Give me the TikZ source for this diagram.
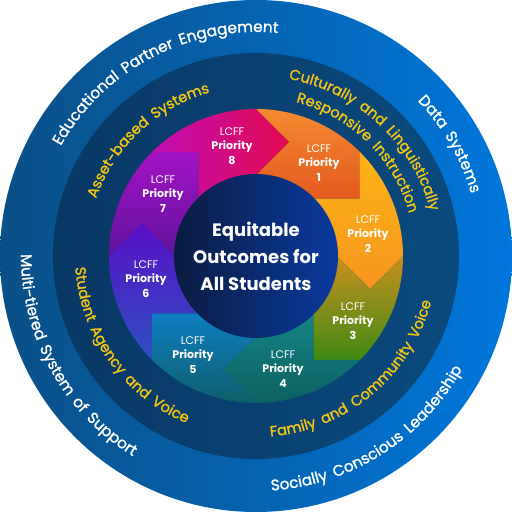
\documentclass[tikz,border=0pt]{standalone}
\usepackage{fontspec}
\setmainfont{Poppins}
\newfontfamily\curvefont[FakeBold=1.3,WordSpace=1.7]{Poppins}
\usetikzlibrary{decorations.text}
\definecolor{ylw}{HTML}{F4C614}
\newcommand{\wfont}{\curvefont\fontsize{15.3}{15.3}\selectfont}
\newcommand{\yfont}{\curvefont\fontsize{14.6}{14.6}\selectfont}
\begin{document}
\begin{tikzpicture}[x=1pt,y=1pt,
  lbl/.style={text=white,align=center,font=\fontsize{11}{14.5}\selectfont,inner sep=0pt},
  ctr/.style={text=white,align=center,font=\fontsize{18}{27}\selectfont\bfseries,inner sep=0pt},
  wtxt/.style={decorate,decoration={text along path,text align=center,text={|\color{white}\wfont|#1}}},
  ytxt/.style={decorate,decoration={text along path,text align=center,text={|\color{ylw}\yfont|#1}}}]
\useasboundingbox (-256,-256) rectangle (256,256);
\fill[white] (-256,-256) rectangle (256,256);
% rings
\shade[left color={rgb,255:red,10;green,79;blue,134},right color={rgb,255:red,0;green,119;blue,220}] (0,0) circle[radius=256];
\shade[left color={rgb,255:red,9;green,56;blue,100},right color={rgb,255:red,11;green,74;blue,126}] (0,0) circle[radius=203];
% segments
\newcommand{\seg}[4]{%
  \pgfmathsetmacro{\aa}{#1}\pgfmathsetmacro{\bb}{#1-45}%
  \pgfmathsetmacro{\ta}{#1-16.14}\pgfmathsetmacro{\tb}{#1-61.14}%
  \shade[top color=#2,bottom color=#3,shading angle=#4]
    (\aa:147) arc[start angle=\aa,end angle=\bb,radius=147] -- (\tb:118.68) -- (\bb:81)
    arc[start angle=\bb,end angle=\aa,radius=81] -- (\ta:118.68) -- cycle;}
\definecolor{s1a}{HTML}{F58A30}\definecolor{s1b}{HTML}{E25A1F}
\definecolor{s2a}{HTML}{FCB415}\definecolor{s2b}{HTML}{F79420}
\definecolor{s3a}{HTML}{C9901F}\definecolor{s3b}{HTML}{3F8A14}
\definecolor{s4a}{HTML}{158585}\definecolor{s4b}{HTML}{0C6060}
\definecolor{s5a}{HTML}{0D7FC2}\definecolor{s5b}{HTML}{0F5E6A}
\definecolor{s6a}{HTML}{5A0FC6}\definecolor{s6b}{HTML}{2C50C0}
\definecolor{s7a}{HTML}{A312C4}\definecolor{s7b}{HTML}{60139E}
\definecolor{s8a}{HTML}{C00CB4}\definecolor{s8b}{HTML}{E30A50}
\seg{90}{s1a}{s1b}{0}
\seg{45}{s2a}{s2b}{0}
\seg{0}{s3a}{s3b}{0}
\seg{-45}{s4a}{s4b}{0}
\seg{-90}{s5a}{s5b}{0}
\seg{-135}{s6a}{s6b}{0}
\seg{180}{s7a}{s7b}{0}
\seg{135}{s8a}{s8b}{90}
% center
\shade[left color={rgb,255:red,10;green,28;blue,64},right color={rgb,255:red,10;green,58;blue,160}] (0,0) circle[radius=82];
\node[ctr] (center) at (0,0) {Equitable\\Outcomes for\\All Students};
% labels
\node[lbl] (p1) at (63,93) {LCFF\\\textbf{Priority}\\\textbf{1}};
\node[lbl] (p2) at (112,22) {LCFF\\\textbf{Priority}\\\textbf{2}};
\node[lbl] (p3) at (97,-65) {LCFF\\\textbf{Priority}\\\textbf{3}};
\node[lbl] (p4) at (27,-113) {LCFF\\\textbf{Priority}\\\textbf{4}};
\node[lbl] (p5) at (-63,-99) {LCFF\\\textbf{Priority}\\\textbf{5}};
\node[lbl] (p6) at (-110,-23) {LCFF\\\textbf{Priority}\\\textbf{6}};
\node[lbl] (p7) at (-93,62) {LCFF\\\textbf{Priority}\\\textbf{7}};
\node[lbl] (p8) at (-24,110) {LCFF\\\textbf{Priority}\\\textbf{8}};
% outer ring texts
\path[wtxt={Educational Partner Engagement}] (162.5:224) arc[start angle=162.5,end angle=72.5,radius=224];
\path[wtxt={Data Systems}] (60:224) arc[start angle=60,end angle=0,radius=224];
\path[wtxt={Socially Conscious Leadership}] (-100:235) arc[start angle=-100,end angle=-15,radius=235];
\path[wtxt={Multi-tiered System of Support}] (165:235) arc[start angle=165,end angle=253,radius=235];
% middle ring texts
\path[ytxt={Asset-based Systems}] (163:170) arc[start angle=163,end angle=103,radius=170];
\path[ytxt={Culturally and Linguistically}] (85:180) arc[start angle=85,end angle=9,radius=180];
\path[ytxt={Responsive Instruction}] (82:159) arc[start angle=82,end angle=9,radius=159];
\path[ytxt={Family and Community Voice}] (-92:181) arc[start angle=-92,end angle=-8,radius=181];
\path[ytxt={Student Agency and Voice}] (174:181) arc[start angle=174,end angle=257,radius=181];
\end{tikzpicture}
\end{document}
